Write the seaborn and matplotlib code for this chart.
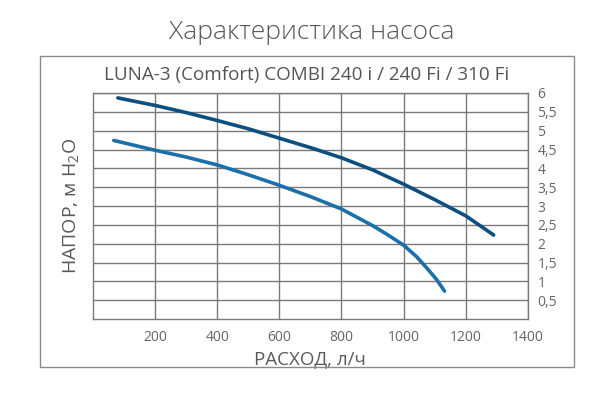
import pandas as pd
import matplotlib
matplotlib.use("Agg")
import matplotlib.pyplot as plt
import seaborn as sns
from matplotlib.patches import Rectangle

# upper curve (dark blue), flow l/h -> head m H2O
flow_top = [80, 200, 300, 400, 500, 600, 700, 800, 900, 1000, 1100, 1200, 1290]
head_top = [5.87, 5.67, 5.48, 5.27, 5.05, 4.80, 4.55, 4.28, 3.96, 3.58, 3.17, 2.74, 2.23]
# lower curve (lighter blue)
flow_low = [67, 200, 300, 400, 500, 600, 700, 800, 900, 950, 1000, 1041, 1073, 1106, 1132]
head_low = [4.74, 4.48, 4.30, 4.09, 3.83, 3.55, 3.25, 2.92, 2.48, 2.23, 1.96, 1.66, 1.37, 1.05, 0.74]

x_ticks = [200, 400, 600, 800, 1000, 1200, 1400]
y_ticks = [0.5, 1, 1.5, 2, 2.5, 3, 3.5, 4, 4.5, 5, 5.5, 6]
y_labels = ["0,5", "1", "1,5", "2", "2,5", "3", "3,5", "4", "4,5", "5", "5,5", "6"]

df = pd.concat([
    pd.DataFrame({"flow": flow_top, "head": head_top, "curve": "top"}),
    pd.DataFrame({"flow": flow_low, "head": head_low, "curve": "low"}),
])

sns.set_theme(style="white")
plt.rcParams["font.family"] = ["Open Sans", "DejaVu Sans"]
plt.rcParams["mathtext.fontset"] = "custom"
plt.rcParams["mathtext.rm"] = "Open Sans"

fig = plt.figure(figsize=(6.09, 4.0), dpi=100)
fig.patch.set_facecolor("white")

ax = fig.add_axes([0.1527, 0.2025, 0.714, 0.565])

sns.lineplot(data=df, x="flow", y="head", hue="curve", estimator=None, sort=False,
             palette={"top": "#0d4f80", "low": "#1b70aa"}, linewidth=2.6,
             legend=False, ax=ax, zorder=3)

ax.set_xlim(0, 1400)
ax.set_ylim(0, 6)
ax.set_xticks(x_ticks)
ax.set_yticks(y_ticks)
ax.set_yticklabels(y_labels)
ax.yaxis.tick_right()
ax.grid(True, which="major", axis="both", color="#7a7a7a", linewidth=1.0, zorder=1)
for s in ax.spines.values():
    s.set_color("#7a7a7a")
    s.set_linewidth(1.0)
ax.tick_params(length=0, labelsize=10, labelcolor="#666666")
ax.tick_params(axis="x", pad=8)
ax.tick_params(axis="y", pad=7)
ax.set_xlabel("РАСХОД, л/ч", fontsize=13.5, color="#5a5a5a", labelpad=4)
ax.set_ylabel(r"НАПОР, м H$_{\mathregular{2}}$O", fontsize=14, color="#5a5a5a", labelpad=8)
ax.yaxis.set_label_position("left")

# outer frame
fig.add_artist(Rectangle((0.065, 0.0825), 0.877, 0.777, transform=fig.transFigure,
                         fill=False, edgecolor="#8a8a8a", linewidth=1.0))

fig.text(0.5115, 0.919, "Характеристика насоса", ha="center", va="center",
         fontsize=19, color="#555555", fontweight="light")
fig.text(0.503, 0.812, "LUNA-3 (Comfort) COMBI 240 i / 240 Fi / 310 Fi", ha="center",
         va="center", fontsize=13.6, color="#555555")

fig.savefig("out.png", dpi=100, facecolor="white")
